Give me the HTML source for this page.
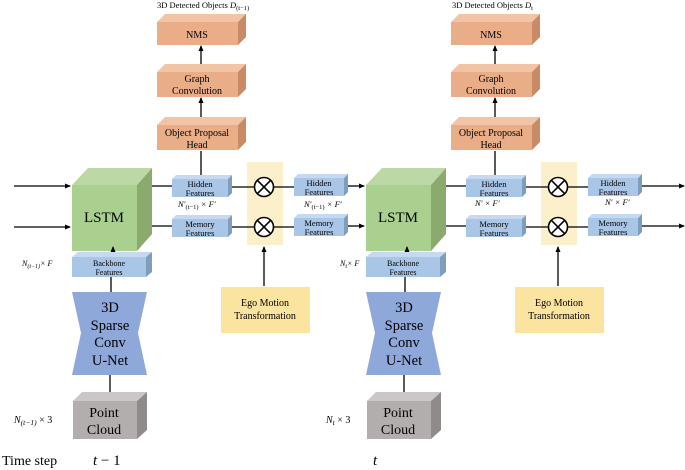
<!DOCTYPE html>
<html><head><meta charset="utf-8"><style>
body{margin:0;background:#fff}
svg{display:block;font-family:"Liberation Serif",serif}
</style></head><body>
<svg width="685" height="470" viewBox="0 0 685 470" xmlns="http://www.w3.org/2000/svg">
<defs>
<marker id="a" markerWidth="6" markerHeight="6" refX="5" refY="3" orient="auto" markerUnits="userSpaceOnUse"><path d="M0,0.5 L6,3 L0,5.5z" fill="#000"/></marker>
</defs>
<g id="half">
<!-- orange boxes -->
<g>
<polygon points="157,22 165,14 246,14 238,22" fill="#f2c4a6"/><polygon points="238,22 246,14 246,37 238,45" fill="#c98a66"/><rect x="157" y="22" width="81" height="23" fill="#e9ad88"/>
<text x="197" y="38" font-size="10" text-anchor="middle">NMS</text>
<polygon points="157,72 165,64 246,64 238,72" fill="#f2c4a6"/><polygon points="238,72 246,64 246,89 238,97" fill="#c98a66"/><rect x="157" y="72" width="81" height="25" fill="#e9ad88"/>
<text x="197" y="82" font-size="10" text-anchor="middle">Graph</text><text x="197" y="94" font-size="10" text-anchor="middle">Convolution</text>
<polygon points="157,125 165,117 246,117 238,125" fill="#f2c4a6"/><polygon points="238,125 246,117 246,142 238,150" fill="#c98a66"/><rect x="157" y="125" width="81" height="25" fill="#e9ad88"/>
<text x="197" y="136" font-size="10" text-anchor="middle">Object Proposal</text><text x="197" y="148" font-size="10" text-anchor="middle">Head</text>
<line x1="201" y1="64" x2="201" y2="46" stroke="#000" stroke-width="1.3" marker-end="url(#a)"/>
<line x1="201" y1="117" x2="201" y2="98" stroke="#000" stroke-width="1.3" marker-end="url(#a)"/>
<line x1="201" y1="175" x2="201" y2="151" stroke="#000" stroke-width="1.3"/>
</g>
<!-- lines -->
<line x1="152" y1="186" x2="172" y2="186" stroke="#000" stroke-width="1.3"/>
<line x1="152" y1="226" x2="172" y2="226" stroke="#000" stroke-width="1.3"/>
<rect x="247" y="162" width="36" height="83" fill="#fbf0c9"/>
<line x1="228" y1="187" x2="294" y2="187" stroke="#000" stroke-width="1.3"/>
<line x1="228" y1="227" x2="294" y2="227" stroke="#000" stroke-width="1.3"/>
<g stroke="#000" stroke-width="1.6" fill="#fff">
<circle cx="264" cy="187" r="9.5"/><line x1="257.3" y1="180.3" x2="270.7" y2="193.7"/><line x1="270.7" y1="180.3" x2="257.3" y2="193.7"/>
<circle cx="264" cy="227" r="9.5"/><line x1="257.3" y1="220.3" x2="270.7" y2="233.7"/><line x1="270.7" y1="220.3" x2="257.3" y2="233.7"/>
</g>
<line x1="264" y1="286" x2="264" y2="247" stroke="#000" stroke-width="1.3" marker-end="url(#a)"/>
<!-- feature boxes -->
<g font-size="8.5" text-anchor="middle">
<polygon points="172,179 176,175 232,175 228,179" fill="#c5daf0"/><polygon points="228,179 232,175 232,193 228,197" fill="#7f9dbd"/><rect x="172" y="179" width="56" height="18" fill="#a9c6e6"/>
<text x="200" y="187">Hidden</text><text x="200" y="196">Features</text>
<polygon points="172,219 176,215 232,215 228,219" fill="#c5daf0"/><polygon points="228,219 232,215 232,233 228,237" fill="#7f9dbd"/><rect x="172" y="219" width="56" height="18" fill="#a9c6e6"/>
<text x="200" y="227">Memory</text><text x="200" y="236">Features</text>
<polygon points="294,178 298,174 348,174 344,178" fill="#c5daf0"/><polygon points="344,178 348,174 348,192 344,196" fill="#7f9dbd"/><rect x="294" y="178" width="50" height="18" fill="#a9c6e6"/>
<text x="319" y="186">Hidden</text><text x="319" y="195">Features</text>
<polygon points="294,218 298,214 348,214 344,218" fill="#c5daf0"/><polygon points="344,218 348,214 348,232 344,236" fill="#7f9dbd"/><rect x="294" y="218" width="50" height="18" fill="#a9c6e6"/>
<text x="319" y="226">Memory</text><text x="319" y="235">Features</text>
</g>
<!-- LSTM -->
<polygon points="72,185 88,168 152,168 137,185" fill="#bcd9a5"/>
<polygon points="137,185 152,168 152,234 137,251" fill="#8aaa6e"/>
<rect x="72" y="185" width="65" height="66" fill="#a9d08e"/>
<text x="104" y="222" font-size="15" text-anchor="middle">LSTM</text>
<line x1="113" y1="252" x2="113" y2="247" stroke="#000" stroke-width="1.2" marker-end="url(#a)"/>
<!-- backbone -->
<polygon points="72,257 78,252 152,252 146,257" fill="#c5daf0"/><polygon points="146,257 152,252 152,272 146,277" fill="#7f9dbd"/><rect x="72" y="257" width="74" height="20" fill="#a9c6e6"/>
<text x="109" y="266" font-size="8" text-anchor="middle">Backbone</text><text x="109" y="275" font-size="8" text-anchor="middle">Features</text>
<line x1="111" y1="277" x2="111" y2="292" stroke="#000" stroke-width="1.3"/>
<polygon points="72,292 147,292 138,333 147,375 72,375 81,333" fill="#8fa8da"/>
<g font-size="14.5" text-anchor="middle"><text x="110" y="312">3D</text><text x="110" y="330">Sparse</text><text x="110" y="347">Conv</text><text x="110" y="365">U-Net</text></g>
<line x1="110" y1="375" x2="110" y2="393" stroke="#000" stroke-width="1.3"/>
<polygon points="73,401 82,392 147,392 137,401" fill="#cbc7c7"/><polygon points="137,401 147,392 147,430 137,439" fill="#908b8b"/><rect x="73" y="401" width="64" height="38" fill="#b3aeae"/>
<g font-size="14" text-anchor="middle"><text x="104" y="417">Point</text><text x="104" y="434">Cloud</text></g>
<rect x="221" y="287" width="89" height="46" fill="#fbe3a0"/>
<g font-size="10" text-anchor="middle"><text x="265" y="306">Ego Motion</text><text x="265" y="319">Transformation</text></g>
</g>
<use href="#half" transform="translate(294,0)"/>
<!-- arrows in -->
<line x1="14" y1="186" x2="70" y2="186" stroke="#000" stroke-width="1.3" marker-end="url(#a)"/>
<line x1="14" y1="227" x2="70" y2="227" stroke="#000" stroke-width="1.3" marker-end="url(#a)"/>
<line x1="348" y1="186" x2="364" y2="186" stroke="#000" stroke-width="1.3" marker-end="url(#a)"/>
<line x1="348" y1="226" x2="364" y2="226" stroke="#000" stroke-width="1.3" marker-end="url(#a)"/>
<line x1="642" y1="186" x2="684" y2="186" stroke="#000" stroke-width="1.3" marker-end="url(#a)"/>
<line x1="642" y1="226" x2="684" y2="226" stroke="#000" stroke-width="1.3" marker-end="url(#a)"/>
<!-- labels -->
<g font-size="8.5">
<text x="157" y="8">3D Detected Objects <tspan font-style="italic">D</tspan><tspan font-size="6.5" dy="2">(t−1)</tspan></text>
<text x="452" y="8">3D Detected Objects <tspan font-style="italic">D</tspan><tspan font-size="6.5" dy="2">t</tspan></text>
<text x="178" y="207" font-style="italic">N′<tspan font-size="6.5" dy="2" font-style="normal">(t−1)</tspan><tspan dy="-2"> × F′</tspan></text>
<text x="304" y="207" font-style="italic">N′<tspan font-size="6.5" dy="2" font-style="normal">(t−1)</tspan><tspan dy="-2"> × F′</tspan></text>
<text x="475" y="206" font-style="italic">N′ × F′</text>
<text x="605" y="205" font-style="italic">N′ × F′</text>
<text x="22" y="266" font-style="italic" font-size="8">N<tspan font-size="6" dy="2">(t−1)</tspan><tspan dy="-2">× F</tspan></text>
<text x="340" y="266" font-style="italic" font-size="8">N<tspan font-size="6" dy="2">t</tspan><tspan dy="-2">× F</tspan></text>
<text x="14" y="423" font-style="italic" font-size="10">N<tspan font-size="7.5" dy="2">(t−1)</tspan><tspan dy="-2" font-style="normal"> × 3</tspan></text>
<text x="326" y="423" font-style="italic" font-size="10">N<tspan font-size="7.5" dy="2">t</tspan><tspan dy="-2" font-style="normal"> × 3</tspan></text>
</g>
<text x="2" y="465" font-size="14">Time step</text>
<text x="93" y="465" font-size="15" font-style="italic">t <tspan font-style="normal">− 1</tspan></text>
<text x="373" y="465" font-size="15" font-style="italic">t</text>
</svg>
</body></html>
